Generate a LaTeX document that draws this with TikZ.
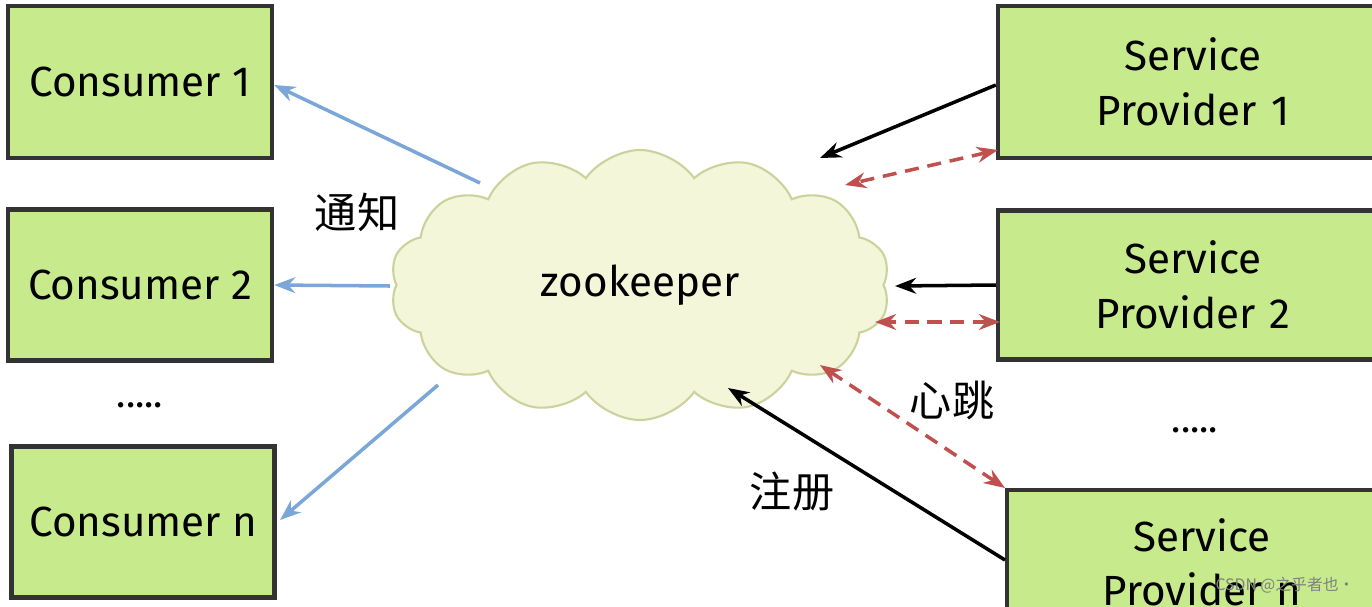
\documentclass[tikz,border=0pt]{standalone}
\usepackage{fontspec}
\setmainfont{Fira Sans}
\newfontfamily\cjk{Noto Sans CJK SC}
\usetikzlibrary{shapes.symbols,arrows.meta}
\definecolor{boxg}{HTML}{C6EA8C}
\definecolor{cloudf}{HTML}{F4F6DA}
\definecolor{cloudd}{HTML}{C9D39B}
\definecolor{blu}{HTML}{7AA7D8}
\definecolor{redd}{HTML}{C0504D}
\tikzset{
 box/.style={draw=black!80,line width=2.5pt,fill=boxg,font=\fontsize{24}{31}\selectfont,align=center,inner sep=0pt},
 barrow/.style={blu,line width=2pt,-{Stealth[length=12pt,width=9pt]}},
 karrow/.style={black,line width=2pt,-{Stealth[length=12pt,width=9pt]}},
 rarrow/.style={redd,line width=2pt,dashed,dash pattern=on 8pt off 5pt,{Stealth[length=12pt,width=9pt]}-{Stealth[length=12pt,width=9pt]}},
 lab/.style={font=\cjk\fontsize{24}{28}\selectfont},
}
\begin{document}
\begin{tikzpicture}[x=0.02cm,y=-0.02cm]
\useasboundingbox (0,0) rectangle (1372,606);
\clip (0,0) rectangle (1372,606);
\node[box,minimum width=264*0.02cm,minimum height=152*0.02cm] (c1) at (140,82) {Consumer 1};
\node[box,minimum width=264*0.02cm,minimum height=151*0.02cm] (c2) at (140,285) {Consumer 2};
\node[box,minimum width=263*0.02cm,minimum height=151*0.02cm] (cn) at (143,522) {Consumer n};
\node[font=\fontsize{22}{26}\selectfont] (d1) at (140,405) {.....};
\node[box,minimum width=390*0.02cm,minimum height=152*0.02cm,text width=300*0.02cm] (s1) at (1193,82) {Service\\Provider 1};
\node[box,minimum width=390*0.02cm,minimum height=149*0.02cm,text width=300*0.02cm] (s2) at (1193,285) {Service\\Provider 2};
\node[box,minimum width=390*0.02cm,minimum height=144*0.02cm,text width=300*0.02cm,anchor=north west] (sn) at (1005,488) {Service\\Provider n};
\node[font=\fontsize{22}{26}\selectfont] (d2) at (1195,430) {.....};
\node[cloud,cloud puffs=14,cloud puff arc=110,aspect=1.9,draw=cloudd,line width=1.2pt,fill=cloudf,minimum width=500*0.02cm,minimum height=270*0.02cm,font=\fontsize{24}{30}\selectfont] (zk) at (640,285) {zookeeper};
\coordinate (b1) at (480,183); \coordinate (b2) at (390,286); \coordinate (b3) at (438,385);
\draw[barrow] (b1) -- (c1.east|-0,85) ;
\draw[barrow] (b2) -- (c2.east);
\draw[barrow] (b3) -- (280,520);
\coordinate (k1) at (820,158); \coordinate (k2) at (895,286); \coordinate (k3) at (728,388);
\draw[karrow] (s1.west|-0,85) -- (k1);
\draw[karrow] (s2.west) -- (k2);
\draw[karrow] (1005,560) -- (k3);
\coordinate (r1) at (845,185); \coordinate (r2) at (875,322); \coordinate (r3) at (820,365);
\draw[rarrow] (998,150) -- (r1);
\draw[rarrow] (1000,322) -- (r2);
\draw[rarrow] (sn.north west) -- (r3);
\node[lab] (l1) at (357,212) {通知};
\node[lab] (l2) at (952,400) {心跳};
\node[lab] (l3) at (792,492) {注册};
\node[font=\cjk\fontsize{9}{10}\selectfont,text=gray] (wm) at (1285,585) {CSDN @之乎者也·};
\end{tikzpicture}
\end{document}
